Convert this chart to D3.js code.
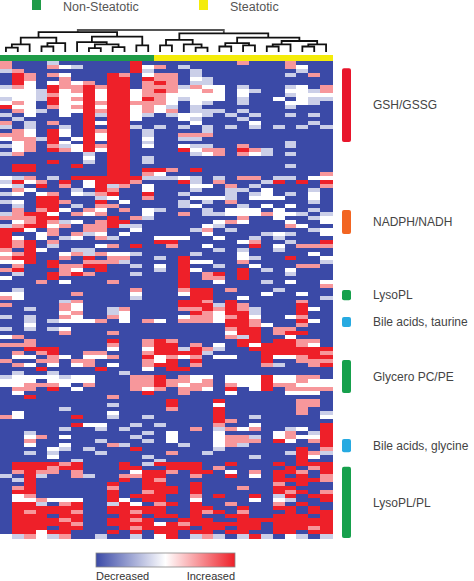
<!DOCTYPE html>
<html>
<head>
<meta charset="utf-8">
<script src="https://cdn.jsdelivr.net/npm/d3@7"></script>
<style>
  body { margin: 0; background: #fff; }
  svg { display: block; font-family: "Liberation Sans", Arial, sans-serif; }
</style>
</head>
<body>
<svg id="chart" width="474" height="581"></svg>
<script>
// sample groups (columns in dendrogram order)
const groups = ["Non-Steatotic", "Steatotic"];
const groupSizes = [13, 15];

// heatmap rows, one char per sample: . decreased, l slightly low, w average, p raised, r increased
const rows = [
  "p...l.. ....r.. ......p ...p...",
  "p...pwl ....rwp .l..... ...pw..",
  "lp..... ....rl. ..l.... ....l..",
  ".rp.pw. ..rp.wp p.l.... ...l.p.",
  ".rp..p. ..rr.rp p.wl... .......",
  ".rw.wpw p.rr.pr p.ll... .......",
  "lpw.rpp rprr.pp plpww.l ...lw.p",
  "wwwlrwp rwrrwpr pwwpw.w l..wwlp",
  "wwwlpww rwrrwpp wwwww.w ...lwww",
  "lwwlrwp rwrrwrp wlwww.l ..w.wll",
  "wpw.rww rprrppp w.wl..l ...wwl.",
  "rww.pwp rwrrwpw l.l.... ...l...",
  ".pwl.ww rprrwpw p.lll.l .......",
  "l.w..w. rlrrwl. lwwl.l. l..l.l.",
  ".l..... r.rrw.. .wl...l .......",
  "p.l.p.. rwrr... ..w.... w....l.",
  "l.l..l. r.rrl.l .l.l.l. l.l.l.l",
  ".pw.rw. rprr.l. ...l... .......",
  "ppw.rw. rwrr.l. .ppp... .......",
  "wpplr.w rwrr.w. .ll.... .......",
  ".wp.rw. r.rr.l. ....... ...l...",
  "lwp.plw rprr.w. .wll..p ...l...",
  ".wp.rpw rwrr... .rwpp.r pl.....",
  "lp..... l.rr... ..lwp.p wl.l...",
  "....... w.rr.l. ....... .......",
  "....r.. l.rr.l. ....... .......",
  ".rr...r ..rr... ....... ...l...",
  ".rr.... ..rr.rr p.r.... .......",
  "....... ..rr.pw ....... ......p",
  "wlp.l.r rrrrrll lwl.l.p p.ll.ww",
  "lrwp.r. wrrrp.. .rl.p.. .lr.r.r",
  "wl.r.p. wrlp.w. ..ww.p. l.....p",
  ".pw...l .rp..w. ..l..ll .w...l.",
  "lw.wp.w lpr..r. .l...l. lw.l.w.",
  "...rr.. .lw..p. ..wwwl. www..w.",
  "lw.rrp. .r.w... .l.l.p. .....l.",
  ".l.rr.l .pp.... .lw...l .w.w...",
  ".p.prw. pw.p.wl ...l.ww w.w..l.",
  "lprrw.p wp...w. .p.llww wpwwl.l",
  "ppprr.. ..r.pl. ......p ..w..lw",
  ".wprplw .prr... ....wpw ...w..w",
  "lprrwp. pprll.. ...wl.. ...pw..",
  "rrw.p.. pp..w.. ..lp.l. .....lw",
  "r..wp.p lw.w... ...w... .lwl..w",
  "rw.w.lw .pl...w ww..w.. l.l....",
  "rpr.p.. ......r r.....w p..l..r",
  "rpr.l.. .wp.r.. p..w... r.w.ppp",
  "p.rw..l l...... ....l.l ..l....",
  "wpr..wp lpwwl.. ..l...w .....w.",
  "prr..p. r.pp..l .r....w l..r..w",
  "wwr.r.. pppl... .rww..p ......l",
  ".p..rpp rr..l.w .r..l.. w...pp.",
  "pr...pw .r....l .rw...r .l.w...",
  ".l..rpr p...l.. .r.pr.r ...l...",
  "w...r.. ....... .r.pp.r .......",
  "...p.w. ..p.... .r..w.. .l.w..w",
  "....... ....... .r..... ......p",
  ".l..... ....p.. .prr.p. ..l....",
  "ww....p ....w.. .wrr... .w..w..",
  "pw..... ....l.. ..rr..w ......l",
  ".....lp ....... .rrp.r. ....p..",
  "p....pw ....... .rrrlrp ....r..",
  "..l..pw ..lp... .pprprp l...rw.",
  ".....wp ..lw... ..rpwrr l...r..",
  "l.l..pw ..pw... .wppwpr w..wp..",
  "..l.lww wp.w.pw .pppwrr p...rw.",
  "..w.... ....... .....rr pw..p..",
  "l.l.lw. ....... .....pr r.pp...",
  ".....p. ..p.... .....wr r.prr..",
  "wp..... ....... .....pl r..w...",
  "..p.... ..r..pr p.....r r.rrpp.",
  "ppp.... ..p..pr r.p.w.r wrrrpw.",
  "..rrr.. ..w..wr rlrpl.. rrrrrrr",
  ".p.pr.. pp...pr rrrl... .rrrrrp",
  ".ww.pw. wwp..rw pwp.ww. .rwwprr",
  "p..pp.p p....pw r.r.... .r..ppp",
  ".pw.w.w p.w..pr r.p.... .pl..pr",
  "...r... .r...w. rr..... .......",
  ".l..l.. ...l... ....... .......",
  "lwwwwlw w...ppr .pww.ww wrwwpp.",
  "www.www w...ppr ppwp.ww wrwwpww",
  "wwpppw. p...ppr pwpp.pw wrppwww",
  ".pp.r.w ....pwp .ppw.r. wr.pppp",
  ".w..... .....r. .p...w. ...www.",
  "..r.... ..p.... ....... .......",
  "....... ....... r...r.. ....pp.",
  "....... ..l.... r...w.. ....pp.",
  ".....l. ....... p...r.. ....p..",
  ".w..... ..w.... ....r.. ....p.l",
  "pw....r ..l..l. ....r.. l.....w",
  "....... ....... ....rp. .......",
  "......r ww..l.l ....p.. w.....r",
  ".....l. .l.l... ..p.lpw p..lw.r",
  "..l.... .....l. w...w.. ..wp.lr",
  "..wp.w. ....l.. w...wpp l.wpwwr",
  "..p.... .l...l. w...wpp p.rw.pr",
  "..w..w. ..pl... .l..wpl ......r",
  "....wl. l...r.. ....l.. ....r.p",
  "..l.l.. .l..... p..l... ...lrpl",
  "....w.. .....l. ....... l...rw.",
  "......l ......l ....... ....r..",
  ".rrrrpr ...r.lr rrr..r. ..r.rrr",
  ".rrrprr ...rr.. rrr.p.. ...r.pr",
  ".prpp.p ....wrr p.rr.w. p.rrp.r",
  "l.rl..p l..pprr ..p..r. w.r.r.p",
  ".lr.... ...r.rp ....... ..rrrrp",
  "..r.... ..r..rr ..r.... ..p.r..",
  ".pr.... ..p..rr r.r...p ..rr...",
  ".rr.... ..r..pr r.r.... ..rpr.p",
  ".wp.... ..r.rrr ..p.r.. r.lr.rr",
  ".wwpwww ..rw.rr ..w.... w.wl..r",
  ".rrl.pr ..lrw.p r.r..p. ..p.r..",
  ".rrrrrr ..rrrrr ..rr..r ..rr.r.",
  ".rprrrp ..rrprr ..rpr.p ...r.rr",
  ".rrr.rr ...rr.r r.r..rr ..rrr.r",
  ".rrrrpr ..rrpr. .rrr..r rrrrrrr",
  ".rrrrrp ..rrrrw rprrrrr r.rrrrr",
  ".rrr.rr ...rprr rr.rr.r r.rrrpr",
  ".rrwrr. ..r.r.r r.rr.rr ..rr.rr",
  "wlpwlp. .l..l.w r.lpl.l rl.wl.l"
];
const levelOf = { ".": 0, "l": 2.2, "w": 3, "p": 4.4, "r": 6 };

// sample dendrogram: [merge height, left, right], numbers are sample columns
const dendro = [10,
  [9,
    [6.5, [3.5, [2, 0, 1], 2], [4, [2.5, 3, 4], 5]],
    [7, [4.5, 6, [3.5, [1.8, 7, 8], [2.2, 9, 10]]], [3, 11, 12]]],
  [8.5,
    [5.5, [3, 13, 14], [3.5, 15, [2, 16, 17]]],
    [6.5, [4, [2.5, 18, 19], [3, 20, 21]],
      [5, [3.5, [2.5, 22, 23], 24], [3.5, [2.5, 25, 26], 27]]]]];

// metabolite classes marked on the right (row ranges)
const classNames = ["GSH/GSSG", "NADPH/NADH", "LysoPL", "Bile acids, taurine",
                    "Glycero PC/PE", "Bile acids, glycine", "LysoPL/PL"];
const classStart = [1.8, 37.5, 57.6, 64.4, 75.2, 95.1, 102.1];
const classEnd   = [20.4, 43.5, 60.2, 66.9, 83.5, 98.4, 120];
const classKind  = ["redox", "nadph", "lipid", "bile", "lipid", "bile", "lipid"];

const legendLabels = ["Decreased", "Increased"];

const svg = d3.select("#chart");

const nCols = d3.sum(groupSizes);
const nRows = rows.length;
const cells = [];
rows.forEach((r, i) => {
  const s = r.replace(/ /g, "").padEnd(nCols, ".").slice(0, nCols);
  for (let j = 0; j < nCols; j++) cells.push({ row: i, col: j, v: levelOf[s[j]] });
});

const x = d3.scaleBand().domain(d3.range(nCols)).range([0, 332]);
const y = d3.scaleBand().domain(d3.range(nRows)).range([61, 538]);
const yPos = d3.scaleLinear().domain([0, nRows]).range([61, 538]);

const blue = "#3b4aa7", red = "#ee2029";
const color = d3.scaleLinear().domain([0, 3, 6]).range([blue, "#ffffff", red]);

const groupColor = d3.scaleOrdinal().domain(groups).range(["#1f9b48", "#f4ec0a"]);
const kindColor = d3.scaleOrdinal()
  .domain(["redox", "nadph", "lipid", "bile"])
  .range(["#e8152b", "#f26522", "#16a04c", "#27aae1"]);

const colGroup = [];
groupSizes.forEach((n, g) => { for (let k = 0; k < n; k++) colGroup.push(groups[g]); });

// Heatmap cells
svg.append("g")
  .attr("shape-rendering", "crispEdges")
  .selectAll("rect")
  .data(cells)
  .enter()
  .append("rect")
  .attr("x", d => x(d.col))
  .attr("y", d => y(d.row))
  .attr("width", x.bandwidth() + 0.5)
  .attr("height", y.bandwidth() + 0.5)
  .attr("fill", d => color(d.v));

// Group strip
svg.append("g")
  .attr("shape-rendering", "crispEdges")
  .selectAll("rect")
  .data(colGroup)
  .enter()
  .append("rect")
  .attr("x", (d, i) => x(i))
  .attr("y", 55)
  .attr("width", x.bandwidth() + 0.5)
  .attr("height", 6)
  .attr("fill", d => groupColor(d));

// Dendrogram
const toNode = a => typeof a === "number"
  ? { leaf: a, h: 0 }
  : { h: a[0], children: [toNode(a[1]), toNode(a[2])] };
const root = d3.hierarchy(toNode(dendro));
root.eachAfter(n => {
  n.px = n.children ? d3.mean(n.children, c => c.px) : x(n.data.leaf) + x.bandwidth() / 2;
});
const hy = d3.scaleLinear().domain([0, 10]).range([52, 30]);

svg.append("g")
  .selectAll("path")
  .data(root.descendants().filter(d => d.children))
  .enter()
  .append("path")
  .attr("fill", "none")
  .attr("stroke", d => d.depth === 0 ? "#555" : "#111")
  .attr("stroke-width", 1.8)
  .attr("d", d => {
    const [a, b] = d.children;
    return `M${a.px},${hy(a.data.h)}V${hy(d.data.h)}H${b.px}V${hy(b.data.h)}`;
  });

// Group legend at top
const topLegend = svg.append("g");
const legendX = [32, 199];
groups.forEach((g, i) => {
  topLegend.append("rect")
    .attr("x", legendX[i]).attr("y", 0)
    .attr("width", 9).attr("height", 10)
    .attr("fill", groupColor(g));
  topLegend.append("text")
    .attr("x", legendX[i] + 31).attr("y", 11)
    .attr("font-size", 12.5)
    .attr("fill", "#555")
    .text(g);
});

// Class bars on the right
const ann = svg.append("g");
ann.selectAll("rect")
  .data(classNames)
  .enter()
  .append("rect")
  .attr("x", 342)
  .attr("y", (d, i) => yPos(classStart[i]))
  .attr("width", 9)
  .attr("height", (d, i) => yPos(classEnd[i]) - yPos(classStart[i]))
  .attr("rx", 2)
  .attr("fill", (d, i) => kindColor(classKind[i]));

ann.selectAll("text")
  .data(classNames)
  .enter()
  .append("text")
  .attr("x", 373)
  .attr("y", (d, i) => (yPos(classStart[i]) + yPos(classEnd[i])) / 2)
  .attr("dy", "0.35em")
  .attr("font-size", 12)
  .attr("fill", "#444")
  .text(d => d);

// Colour key
const defs = svg.append("defs");
const grad = defs.append("linearGradient").attr("id", "key");
[0, 0.25, 0.5, 0.75, 1].forEach(t => {
  grad.append("stop").attr("offset", t).attr("stop-color", color(t * 6));
});
const keyScale = d3.scaleLinear().domain([0, 1]).range([96, 235]);
svg.append("rect")
  .attr("x", keyScale(0)).attr("y", 553)
  .attr("width", keyScale(1) - keyScale(0)).attr("height", 14)
  .attr("fill", "url(#key)")
  .attr("stroke", "#888").attr("stroke-width", 0.8);

svg.selectAll(".key-label")
  .data(legendLabels)
  .enter()
  .append("text")
  .attr("class", "key-label")
  .attr("x", (d, i) => keyScale(i))
  .attr("y", 580)
  .attr("text-anchor", (d, i) => i ? "end" : "start")
  .attr("font-size", 11)
  .attr("fill", "#333")
  .text(d => d);
</script>
</body>
</html>
